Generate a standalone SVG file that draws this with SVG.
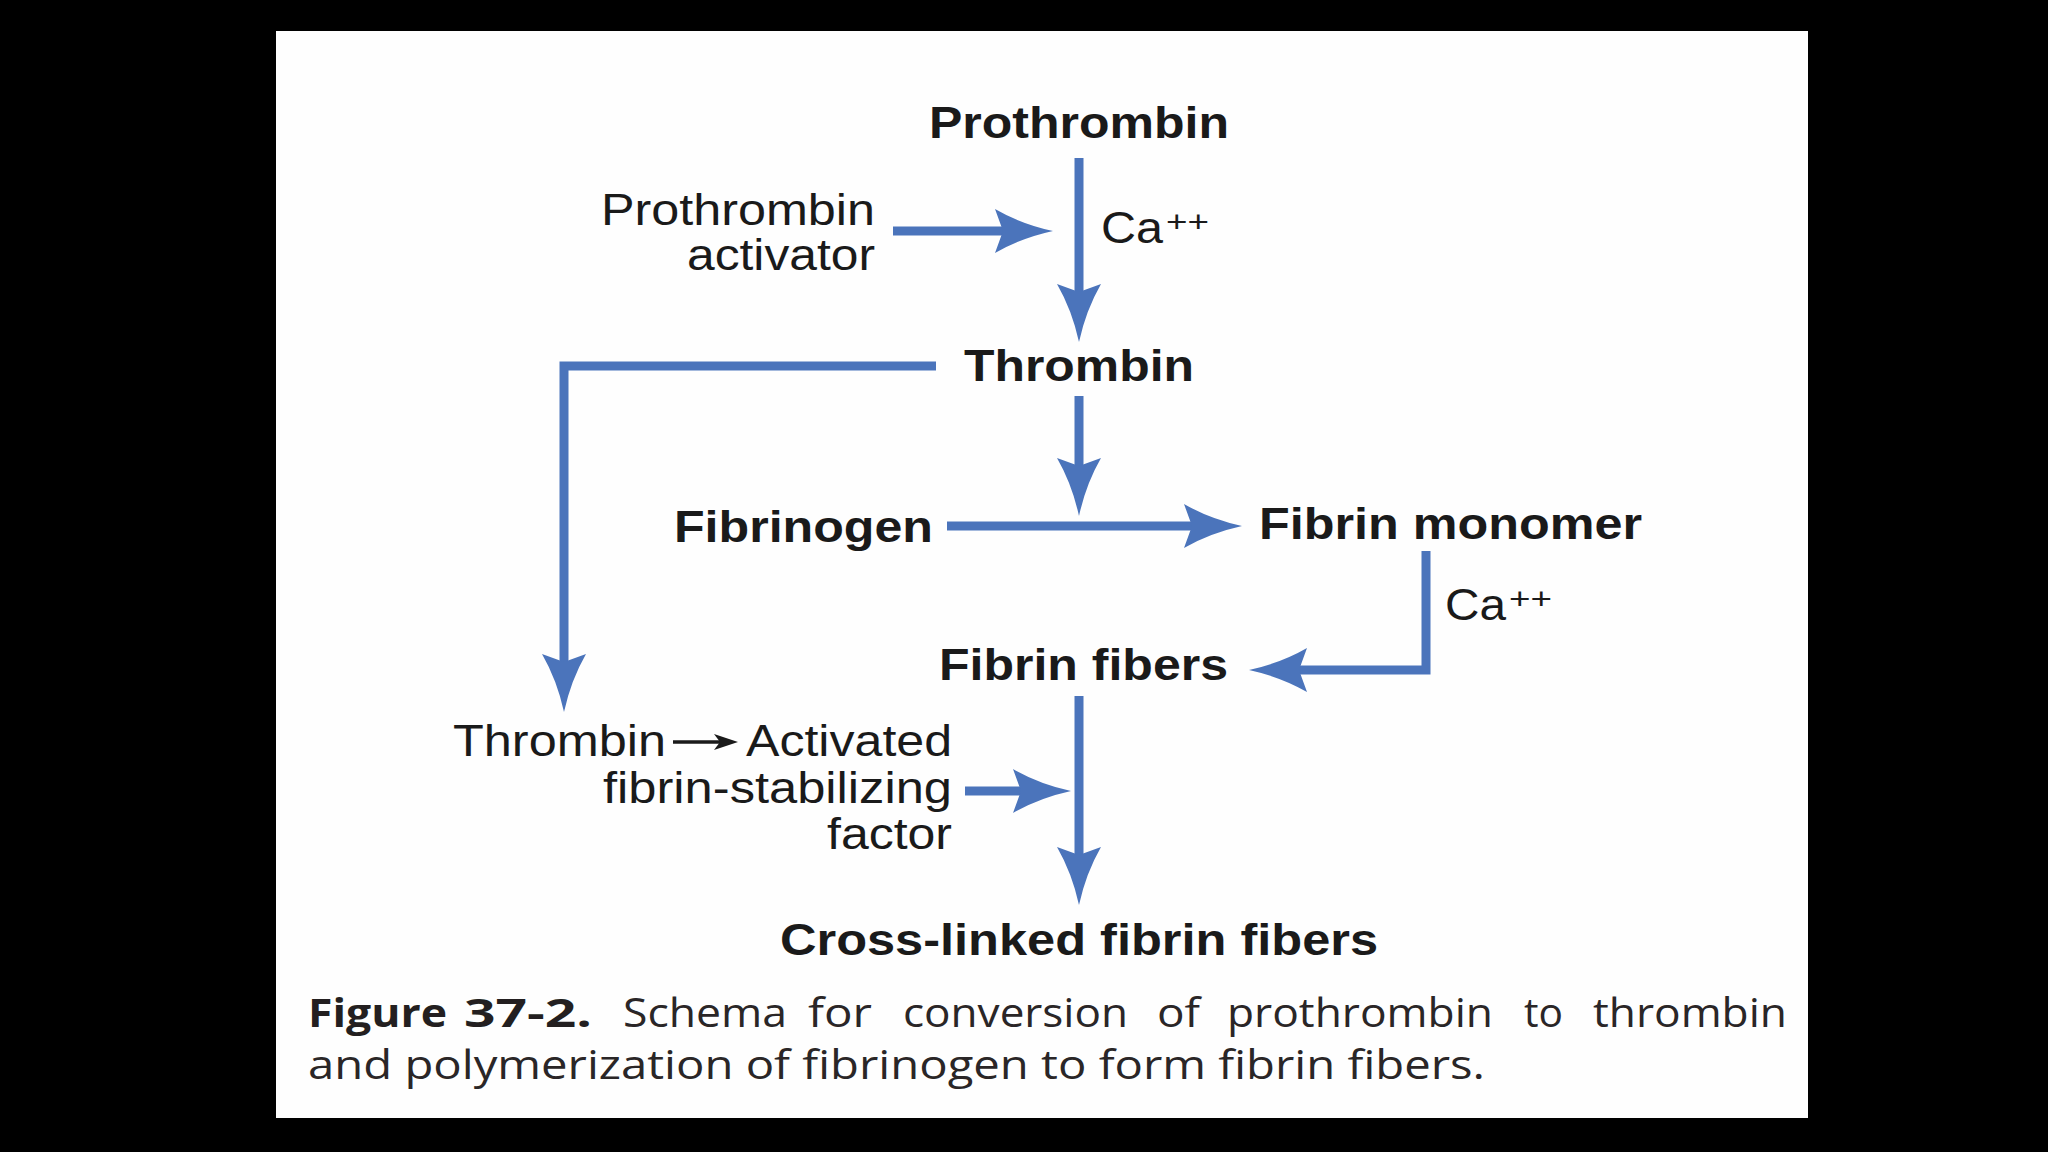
<svg xmlns="http://www.w3.org/2000/svg" width="2048" height="1152" viewBox="0 0 2048 1152">
<defs>
<style>
.b{font-family:"Liberation Sans",Arial,sans-serif;font-weight:bold;font-size:44px;fill:#1a1a1a}
.r{font-family:"Liberation Sans",Arial,sans-serif;font-size:44px;fill:#1a1a1a}
.sup{font-family:"Liberation Sans",Arial,sans-serif;font-size:30px;fill:#1a1a1a}
.cap{font-family:"Open Sans","Liberation Sans",sans-serif;font-size:40px;fill:#2a2627}
.capb{font-family:"Open Sans","Liberation Sans",sans-serif;font-size:40px;font-weight:bold;fill:#231f20}
.ln{fill:none;stroke:#4b74bb;stroke-width:9;stroke-linejoin:miter}
.lk{fill:none;stroke:#1a1a1a;stroke-width:3.5}
</style>
<marker id="ah" markerUnits="userSpaceOnUse" markerWidth="64" markerHeight="50" viewBox="0 -25 64 50" refX="14" refY="0" orient="auto">
<path d="M58,0 Q26,-7 0,-22 L8,0 L0,22 Q26,7 58,0 Z" fill="#4b74bb"/>
</marker>
<marker id="ak" markerUnits="userSpaceOnUse" markerWidth="30" markerHeight="20" viewBox="0 -10 30 20" refX="6" refY="0" orient="auto">
<path d="M24,0 L0,-8 L6,0 L0,8 Z" fill="#1a1a1a"/>
</marker>
</defs>
<rect x="0" y="0" width="2048" height="1152" fill="#000"/>
<rect x="276" y="31" width="1532" height="1087" fill="#fefefe"/>

<g id="connectors">
<path class="ln" d="M1079,158 L1079,298" marker-end="url(#ah)"/>
<path class="ln" d="M893,231 L1009,231" marker-end="url(#ah)"/>
<path class="ln" d="M936,366 L564,366 L564,668" marker-end="url(#ah)"/>
<path class="ln" d="M1079,396 L1079,472" marker-end="url(#ah)"/>
<path class="ln" d="M947,526 L1198,526" marker-end="url(#ah)"/>
<path class="ln" d="M1426,551 L1426,670 L1293,670" marker-end="url(#ah)"/>
<path class="ln" d="M1079,696 L1079,861" marker-end="url(#ah)"/>
<path class="ln" d="M965,791 L1027,791" marker-end="url(#ah)"/>
<path class="lk" d="M673,742 L720,742" marker-end="url(#ak)"/>
</g>

<g id="node-prothrombin"><text class="b" x="929" y="138" textLength="300" lengthAdjust="spacingAndGlyphs">Prothrombin</text></g>
<g id="node-activator">
<text class="r" x="875" y="225" text-anchor="end" textLength="274" lengthAdjust="spacingAndGlyphs">Prothrombin</text>
<text class="r" x="875" y="270" text-anchor="end" textLength="188" lengthAdjust="spacingAndGlyphs">activator</text>
</g>
<g id="label-ca1"><text class="r" x="1101" y="243" textLength="62" lengthAdjust="spacingAndGlyphs">Ca</text><text class="sup" x="1166" y="232" textLength="43" lengthAdjust="spacingAndGlyphs">++</text></g>
<g id="node-thrombin"><text class="b" x="964" y="381" textLength="230" lengthAdjust="spacingAndGlyphs">Thrombin</text></g>
<g id="node-fibrinogen"><text class="b" x="674" y="542" textLength="259" lengthAdjust="spacingAndGlyphs">Fibrinogen</text></g>
<g id="node-monomer"><text class="b" x="1259" y="539" textLength="383" lengthAdjust="spacingAndGlyphs">Fibrin monomer</text></g>
<g id="label-ca2"><text class="r" x="1445" y="620" textLength="61" lengthAdjust="spacingAndGlyphs">Ca</text><text class="sup" x="1509" y="609" textLength="43" lengthAdjust="spacingAndGlyphs">++</text></g>
<g id="node-fibers"><text class="b" x="939" y="680" textLength="289" lengthAdjust="spacingAndGlyphs">Fibrin fibers</text></g>
<g id="node-fsf">
<text class="r" x="453" y="756" textLength="213" lengthAdjust="spacingAndGlyphs">Thrombin</text>
<text class="r" x="952" y="756" text-anchor="end" textLength="206" lengthAdjust="spacingAndGlyphs">Activated</text>
<text class="r" x="952" y="803" text-anchor="end" textLength="349" lengthAdjust="spacingAndGlyphs">fibrin-stabilizing</text>
<text class="r" x="952" y="849" text-anchor="end" textLength="125" lengthAdjust="spacingAndGlyphs">factor</text>
</g>
<g id="node-crosslinked"><text class="b" x="780" y="955" textLength="598" lengthAdjust="spacingAndGlyphs">Cross-linked fibrin fibers</text></g>

<g id="caption">
<text class="capb" x="308" y="1027" textLength="139" lengthAdjust="spacingAndGlyphs">Figure</text>
<text class="capb" x="464" y="1027" textLength="128" lengthAdjust="spacingAndGlyphs">37-2.</text>
<text class="cap" x="623" y="1027" textLength="164" lengthAdjust="spacingAndGlyphs">Schema</text>
<text class="cap" x="808" y="1027" textLength="64" lengthAdjust="spacingAndGlyphs">for</text>
<text class="cap" x="903" y="1027" textLength="225" lengthAdjust="spacingAndGlyphs">conversion</text>
<text class="cap" x="1157" y="1027" textLength="43" lengthAdjust="spacingAndGlyphs">of</text>
<text class="cap" x="1227" y="1027" textLength="266" lengthAdjust="spacingAndGlyphs">prothrombin</text>
<text class="cap" x="1524" y="1027" textLength="39" lengthAdjust="spacingAndGlyphs">to</text>
<text class="cap" x="1593" y="1027" textLength="194" lengthAdjust="spacingAndGlyphs">thrombin</text>
<text class="cap" x="308" y="1079" textLength="1177" lengthAdjust="spacingAndGlyphs">and polymerization of fibrinogen to form fibrin fibers.</text>
</g>
</svg>
